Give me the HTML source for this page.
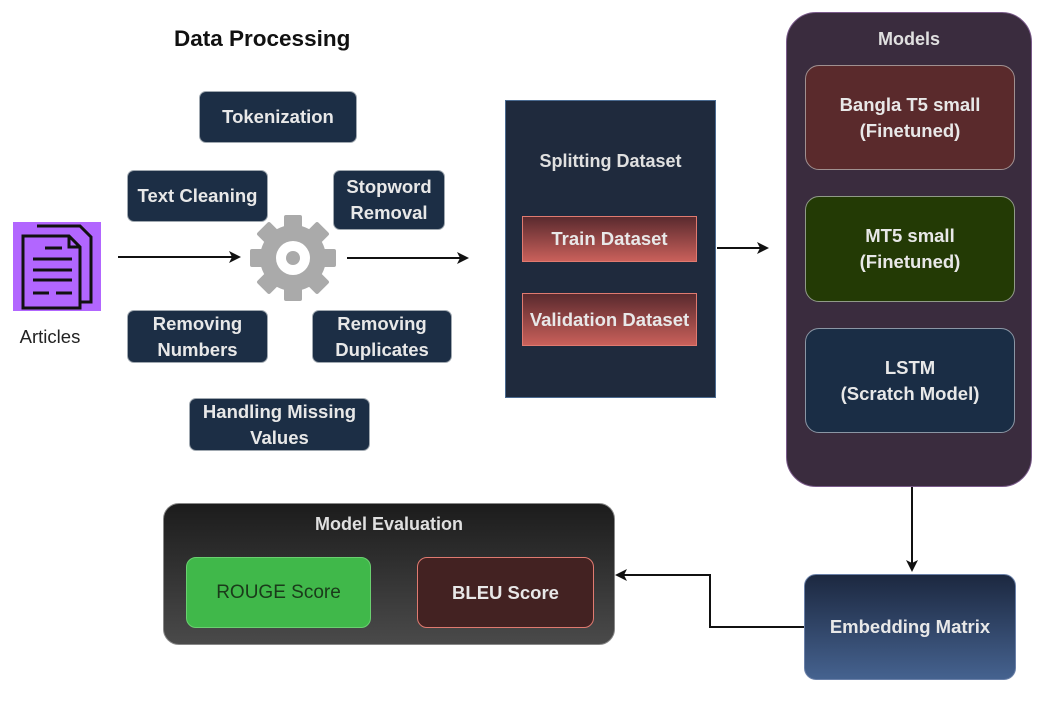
<!DOCTYPE html>
<html><head><meta charset="utf-8"><style>
body{margin:0;width:1039px;height:708px;background:#fff;position:relative;overflow:hidden;font-family:"Liberation Sans",Arial,sans-serif;}
.b{position:absolute;box-sizing:border-box;display:flex;align-items:center;justify-content:center;text-align:center;font-weight:bold;color:#e8e8e8;font-size:18.5px;line-height:26px;}
.dp{background:#1c2e45;border:1.5px solid #a0a8b0;border-radius:7px;}
.t{position:absolute;font-weight:bold;font-size:18px;color:#e0e0e0;text-align:center;}
</style></head><body>
<div class="t" style="top:26px;color:#111;font-size:22.5px;text-align:left;left:174px;">Data Processing</div>
<div class="b dp" style="left:199px;top:91px;width:158px;height:52px;">Tokenization</div>
<div class="b dp" style="left:127px;top:170px;width:141px;height:52px;">Text Cleaning</div>
<div class="b dp" style="left:333px;top:170px;width:112px;height:60px;">Stopword<br>Removal</div>
<div class="b dp" style="left:127px;top:310px;width:141px;height:53px;">Removing<br>Numbers</div>
<div class="b dp" style="left:312px;top:310px;width:140px;height:53px;">Removing<br>Duplicates</div>
<div class="b dp" style="left:189px;top:398px;width:181px;height:53px;">Handling Missing<br>Values</div>
<div style="position:absolute;left:13px;top:222px;width:88px;height:89px;background:#b266ff;"></div>
<svg style="position:absolute;left:0;top:0" width="1039" height="708">
<g fill="none" stroke="#111" stroke-width="3">
<path d="M37 226 H80 L91 237 V302 H80"/>
<path d="M23 236 H69 L80 247 V308 H23 Z" fill="#b266ff"/>
<path d="M69 236 V247 H80"/>
<path d="M45 248 H62 M33 259 H72 M33 270 H72 M33 280 H72 M33 293 H49 M56 293 H72"/>
</g>
<g fill="#aaa">
<circle cx="293" cy="258" r="33"/>
<g>
<rect x="284" y="215" width="18" height="86" rx="2"/>
<rect x="284" y="215" width="18" height="86" rx="2" transform="rotate(45 293 258)"/>
<rect x="284" y="215" width="18" height="86" rx="2" transform="rotate(90 293 258)"/>
<rect x="284" y="215" width="18" height="86" rx="2" transform="rotate(135 293 258)"/>
</g>
</g>
<circle cx="293" cy="258" r="17" fill="#fff"/>
<circle cx="293" cy="258" r="7" fill="#aaa"/>
<g stroke="#111" stroke-width="2" fill="none">
<path d="M118 257 H232"/><path d="M347 258 H460"/><path d="M717 248 H760"/>
<path d="M912 487 V563"/><path d="M804 627 H710 V575 H624"/>
</g>
<g fill="#111">
<path d="M241 257 L229 251 L232 257 L229 263Z"/>
<path d="M469 258 L457 252 L460 258 L457 264Z"/>
<path d="M769 248 L757 242 L760 248 L757 254Z"/>
<path d="M912 572 L906 560 L912 563 L918 560Z"/>
<path d="M615 575 L627 569 L624 575 L627 581Z"/>
</g>
</svg>
<div style="position:absolute;left:0;top:326px;width:100px;text-align:center;font-size:18.5px;color:#222;">Articles</div>
<div style="position:absolute;left:505px;top:100px;width:211px;height:298px;background:#1f2a3d;border:1.5px solid #4a6a90;box-sizing:border-box;"></div>
<div class="t" style="left:505px;top:151px;width:211px;">Splitting Dataset</div>
<div class="b" style="left:522px;top:216px;width:175px;height:46px;background:linear-gradient(#5a2a2e,#c9605a);border:1.5px solid #e07a70;">Train Dataset</div>
<div class="b" style="left:522px;top:293px;width:175px;height:53px;background:linear-gradient(#5a2a2e,#c9605a);border:1.5px solid #e07a70;">Validation Dataset</div>
<div style="position:absolute;left:786px;top:12px;width:246px;height:475px;background:#3a2c3e;border:1.5px solid #7a5a8a;border-radius:30px;box-sizing:border-box;"></div>
<div class="t" style="left:786px;top:29px;width:246px;">Models</div>
<div class="b" style="left:805px;top:65px;width:210px;height:105px;background:#5a2a2c;border:1.5px solid #a09090;border-radius:14px;">Bangla T5 small<br>(Finetuned)</div>
<div class="b" style="left:805px;top:196px;width:210px;height:106px;background:#233a05;border:1.5px solid #909a88;border-radius:14px;">MT5 small<br>(Finetuned)</div>
<div class="b" style="left:805px;top:328px;width:210px;height:105px;background:#1a2d45;border:1.5px solid #8a96a4;border-radius:14px;">LSTM<br>(Scratch Model)</div>
<div class="b" style="left:804px;top:574px;width:212px;height:106px;background:linear-gradient(#1c2840,#45628f);border:1px solid #6a80a8;border-radius:12px;">Embedding Matrix</div>
<div style="position:absolute;left:163px;top:503px;width:452px;height:142px;background:linear-gradient(#1c1c1c,#4a4a4a);border:1.5px solid #888;border-radius:16px;box-sizing:border-box;"></div>
<div class="t" style="left:163px;top:514px;width:452px;">Model Evaluation</div>
<div class="b" style="left:186px;top:557px;width:185px;height:71px;background:#40b84a;border:1px solid #6ad070;border-radius:10px;color:#1a3a1a;font-weight:normal;font-size:19px;">ROUGE Score</div>
<div class="b" style="left:417px;top:557px;width:177px;height:71px;background:#432222;border:1.5px solid #e07a70;border-radius:10px;">BLEU Score</div>
</body></html>
